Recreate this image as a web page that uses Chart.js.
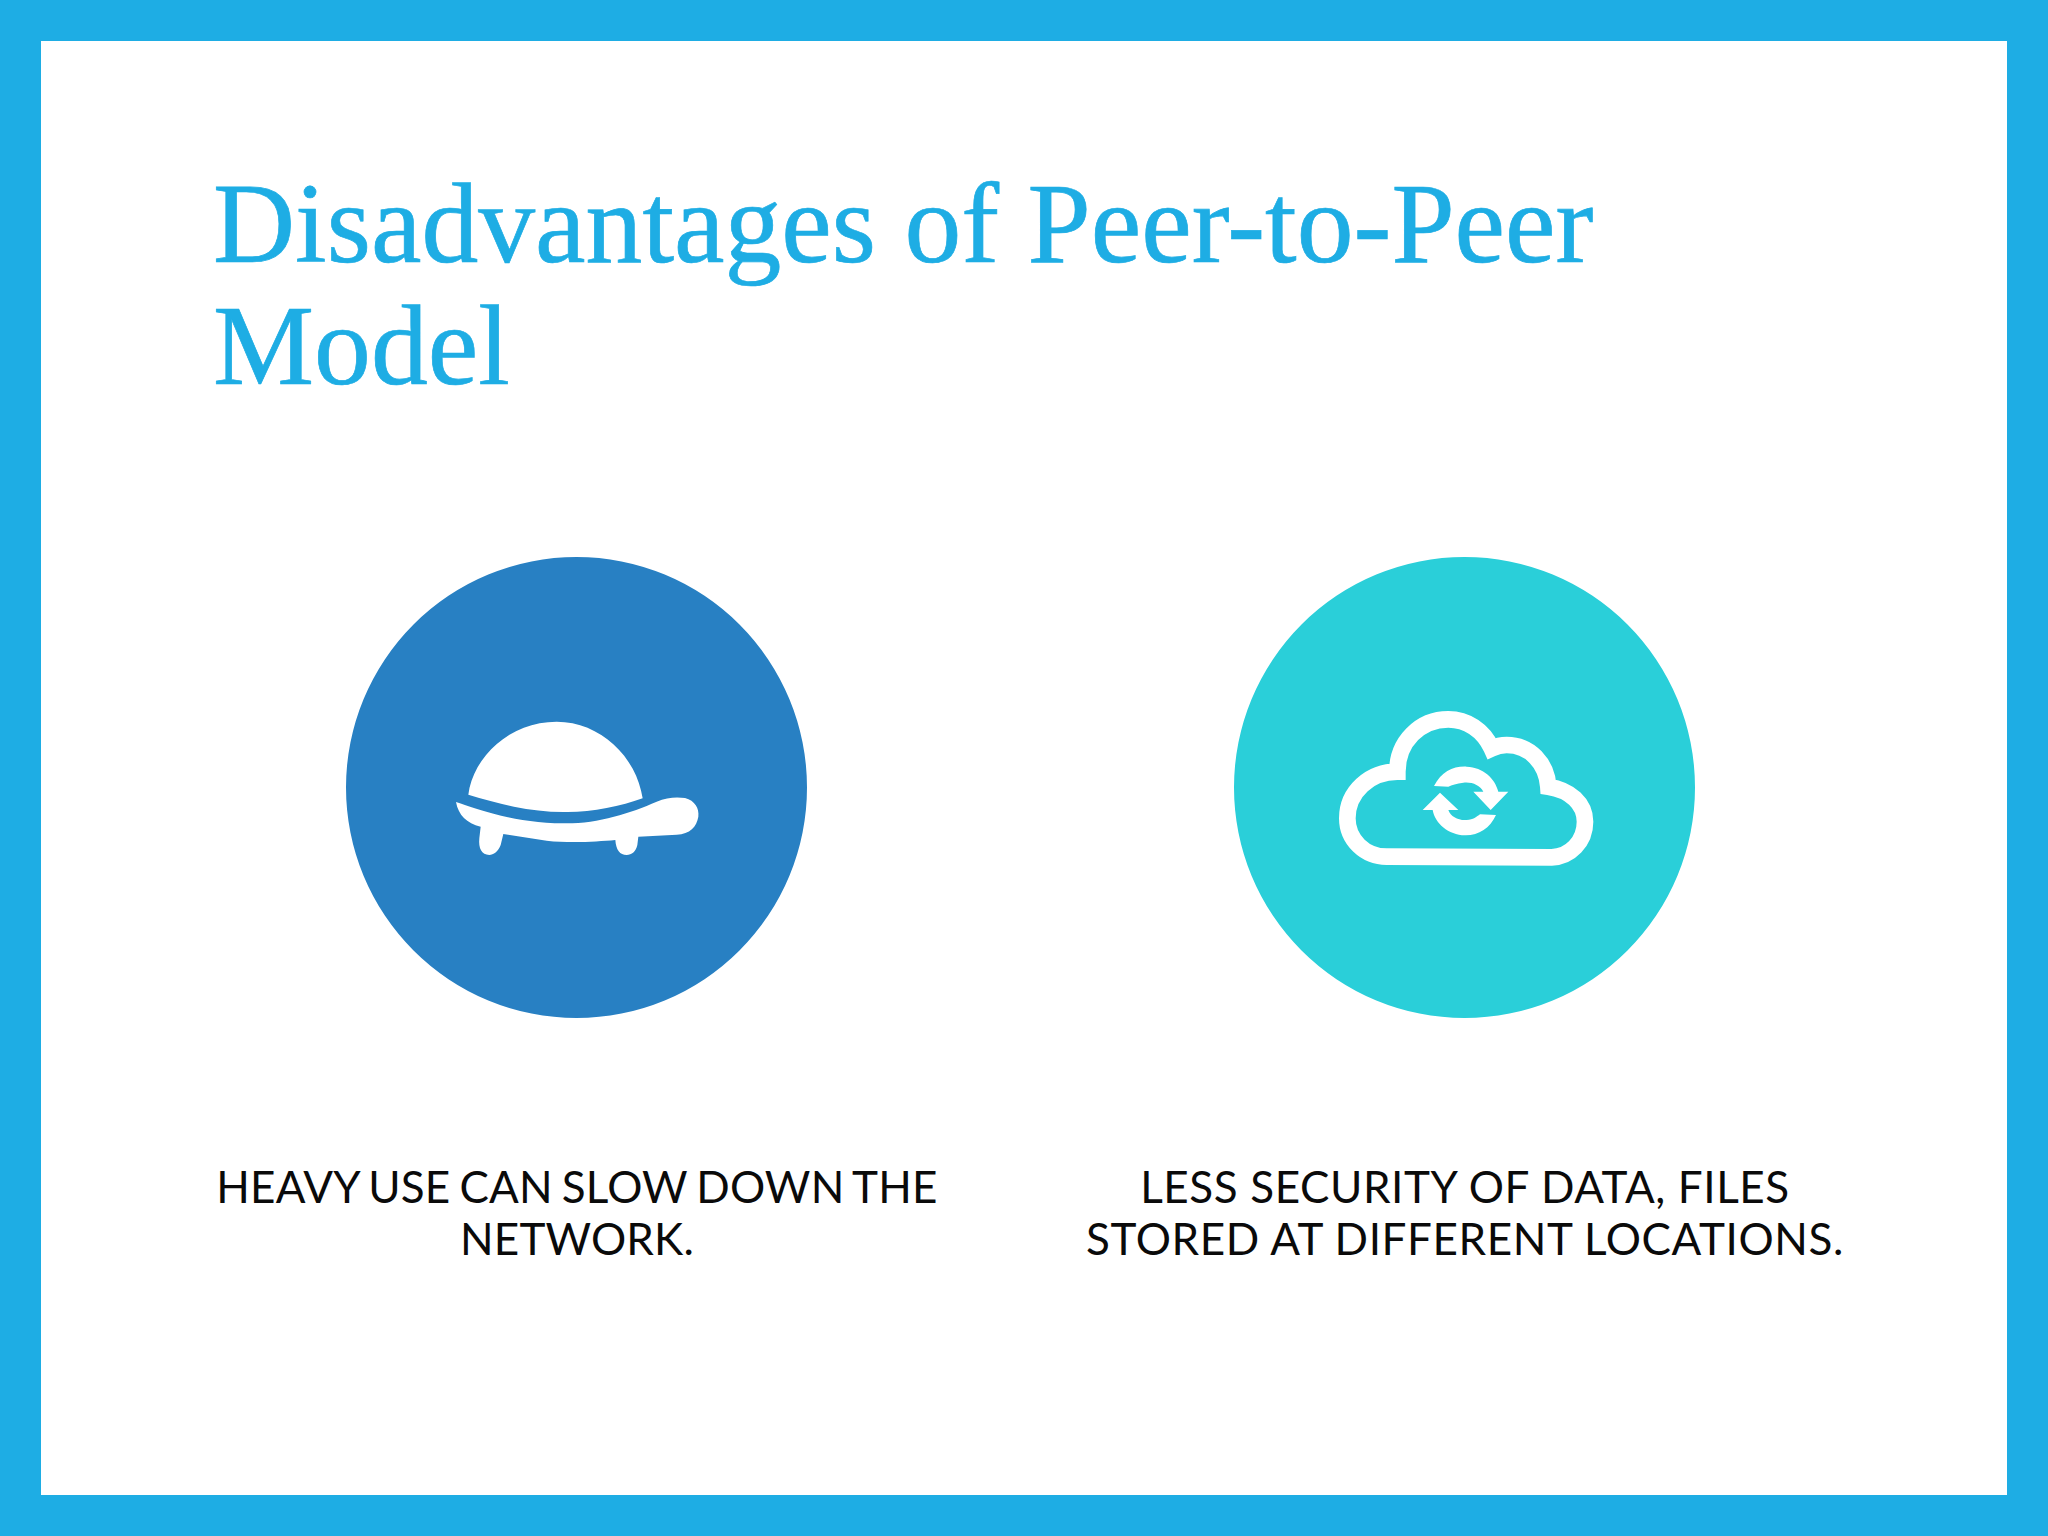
<!DOCTYPE html>
<html><head><meta charset="utf-8">
<script src="https://cdn.jsdelivr.net/npm/chart.js@4"></script>
<style>
html,body{margin:0;padding:0;background:#fff}
#page{position:relative;width:2048px;height:1536px;background:#fff;overflow:hidden}
#frame{position:absolute;left:0;top:0;width:2048px;height:1536px;box-sizing:border-box;border:41px solid #1EADE4}
#title{position:absolute;left:213px;top:163px;margin:0;font:400 113.7px/122px "Liberation Serif",serif;color:#1EADE4;white-space:nowrap;-webkit-text-stroke:0.7px #1EADE4}
.cap{position:absolute;top:1160px;width:900px;text-align:center;font:400 44px/52px Lato,sans-serif;color:#0a0a0a;white-space:nowrap}
canvas{position:absolute}
svg.icon{position:absolute;width:300px;height:190px;top:690px}
</style></head>
<body><div id="page">
<div id="frame"></div>
<h1 id="title">Disadvantages of Peer-to-Peer<br>Model</h1>
<canvas id="c1" width="461" height="461" style="left:346px;top:557px;width:461px;height:461px"></canvas>
<canvas id="c2" width="461" height="461" style="left:1234px;top:557px;width:461px;height:461px"></canvas>
<svg class="icon" style="left:430px" viewBox="0 0 900 570"><g fill="#fff">
<path d="M115 314C130 200 240 95 380 95C510 95 620 200 638 325C570 350 480 368 400 366C300 366 200 340 115 314Z"/>
<path d="M78 336C150 360 260 400 400 400C500 402 600 370 680 335C710 322 740 320 765 324C795 332 808 355 805 380C800 410 780 432 740 434L625 440L622 465C618 485 605 495 590 495C570 495 558 480 556 450C500 455 420 460 350 452L220 432L212 465C205 485 190 495 178 495C155 495 145 475 148 445L152 410C110 400 85 375 78 336Z"/>
</g></svg>
<svg class="icon" style="left:1320px" viewBox="0 0 900 570">
<path fill="none" stroke="#fff" stroke-width="50" stroke-linejoin="miter" d="M200 500L695 502C750 500 795 455 795 395C795 340 750 300 685 290C680 220 630 165 560 165C545 165 530 168 515 175C490 120 440 88 385 88C300 88 232 155 232 245C150 245 82 305 82 385C82 450 135 500 200 500Z"/>
<g fill="#fff">
<path d="M342 288C365 245 400 228 440 230C490 232 525 265 535 305L565 305L512 360L460 305L490 305C480 285 455 275 430 278C410 280 395 285 385 290Z"/>
<path d="M528 375C510 415 475 437 435 436C385 435 345 400 338 360L308 360L360 308L415 360L385 360C392 380 415 392 440 390C460 390 470 380 480 373Z"/>
</g></svg>
<div class="cap" style="left:127px;letter-spacing:0.2px;word-spacing:-2.5px">HEAVY USE CAN SLOW DOWN THE<br>NETWORK.</div>
<div class="cap" style="left:1015px;letter-spacing:0.6px">LESS SECURITY OF DATA, FILES<br>STORED AT DIFFERENT LOCATIONS.</div>
</div>
<script>
const categoriesLeft = ["Heavy use can slow down the network."];
const valuesLeft = [1];
const colorsLeft = ["#2880C3"];
const categoriesRight = ["Less security of data, files stored at different locations."];
const valuesRight = [1];
const colorsRight = ["#2ACFD9"];
function makePie(id, labels, data, backgroundColor){
  new Chart(document.getElementById(id), {
    type: "pie",
    data: {labels, datasets: [{data, backgroundColor, borderWidth: 0}]},
    options: {responsive: false, animation: false, layout: {padding: 0},
      plugins: {legend: {display: false}, title: {display: false}, tooltip: {enabled: false}}}
  });
}
makePie("c1", categoriesLeft, valuesLeft, colorsLeft);
makePie("c2", categoriesRight, valuesRight, colorsRight);
</script>
</body></html>
